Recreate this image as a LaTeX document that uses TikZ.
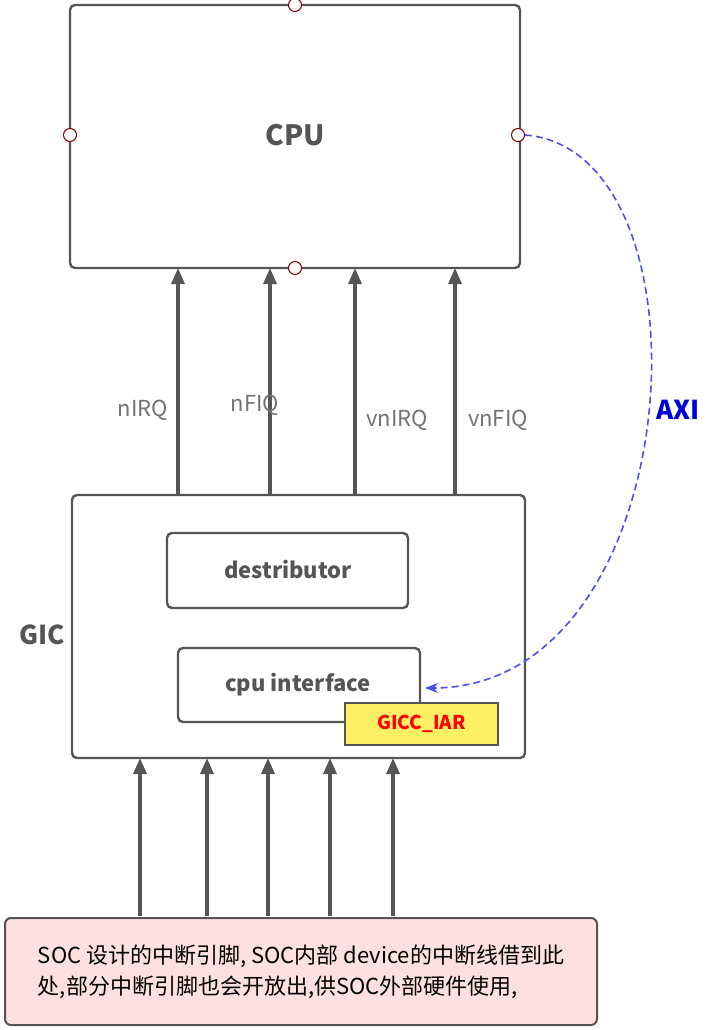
\documentclass[tikz,border=0pt]{standalone}
\usepackage{fontspec}
\setmainfont{Noto Sans CJK SC}
\usetikzlibrary{arrows.meta}
\definecolor{bx}{HTML}{555555}
\begin{document}
\begin{tikzpicture}[x=1pt,y=-1pt,
 box/.style={draw=bx,line width=2.4pt,rounded corners=5pt,fill=white},
 pin/.style={circle,draw=red!50!black,fill=white,inner sep=0pt,minimum size=13pt,line width=1pt},
 sig/.style={-{Triangle[length=16pt,width=13pt]},draw=bx,line width=3.2pt},
 lab/.style={text=gray!90!black,font=\fontsize{22}{22}\selectfont}]
\useasboundingbox (0,0) rectangle (713,1030);
\node[box,minimum width=450pt,minimum height=263pt] (cpu) at (295,136.5) {};
\node[font=\fontsize{28}{28}\selectfont\bfseries,text=bx] at (295,135) {CPU};
\node[pin] (pt) at (295,5) {};
\node[pin] (pl) at (70,135) {};
\node[pin] (pr) at (518,135) {};
\node[pin] (pb) at (295,268) {};
\node[box,minimum width=453pt,minimum height=263pt] (gic) at (298.5,626.5) {};
\node[font=\fontsize{26}{26}\selectfont\bfseries,text=bx] at (42,635) {GIC};
\node[box,minimum width=241pt,minimum height=75pt] (dst) at (287.5,570.5) {};
\node[font=\fontsize{22}{22}\selectfont\bfseries,text=bx] at (288,570) {destributor};
\node[box,minimum width=242pt,minimum height=74pt] (cif) at (299,685) {};
\node[font=\fontsize{22}{22}\selectfont\bfseries,text=bx] at (298,685) {cpu interface};
\node[draw=bx,line width=2pt,fill=yellow!90!orange!60,minimum width=153pt,minimum height=42pt,text=red,font=\fontsize{19}{19}\selectfont\bfseries] (iar) at (421.5,724) {GICC\_IAR};
\foreach \x/\n in {178/a,270/b,355/c,455/d}{
 \coordinate (s\n) at (\x,495); \coordinate (e\n) at (\x,268);
 \draw[sig] (s\n) -- (e\n);}
\node[lab] at (143,410) {nIRQ};
\node[lab] at (255,405) {nFIQ};
\node[lab] at (397,420) {vnIRQ};
\node[lab] at (498,420) {vnFIQ};
\node[draw=bx,line width=2pt,rounded corners=6pt,fill=red!12,minimum width=592pt,minimum height=107pt,align=left,font=\fontsize{22}{31}\selectfont] (soc) at (301,971.5) {SOC 设计的中断引脚, SOC内部 device的中断线借到此\\处,部分中断引脚也会开放出,供SOC外部硬件使用,};
\foreach \x/\n in {140/a,207/b,268/c,330/d,393/e}{
 \coordinate (b\n) at (\x,916); \coordinate (t\n) at (\x,758);
 \draw[sig] (b\n) -- (t\n);}
\draw[blue!70,dash pattern=on 7pt off 4pt,line width=1.6pt,-{Stealth[length=13pt,width=10pt]}] (pr.east) .. controls (720,150) and (690,688) .. (425,688);
\node[text=blue!85!black,font=\fontsize{26}{26}\selectfont\bfseries] at (678,410) {AXI};
\end{tikzpicture}
\end{document}
